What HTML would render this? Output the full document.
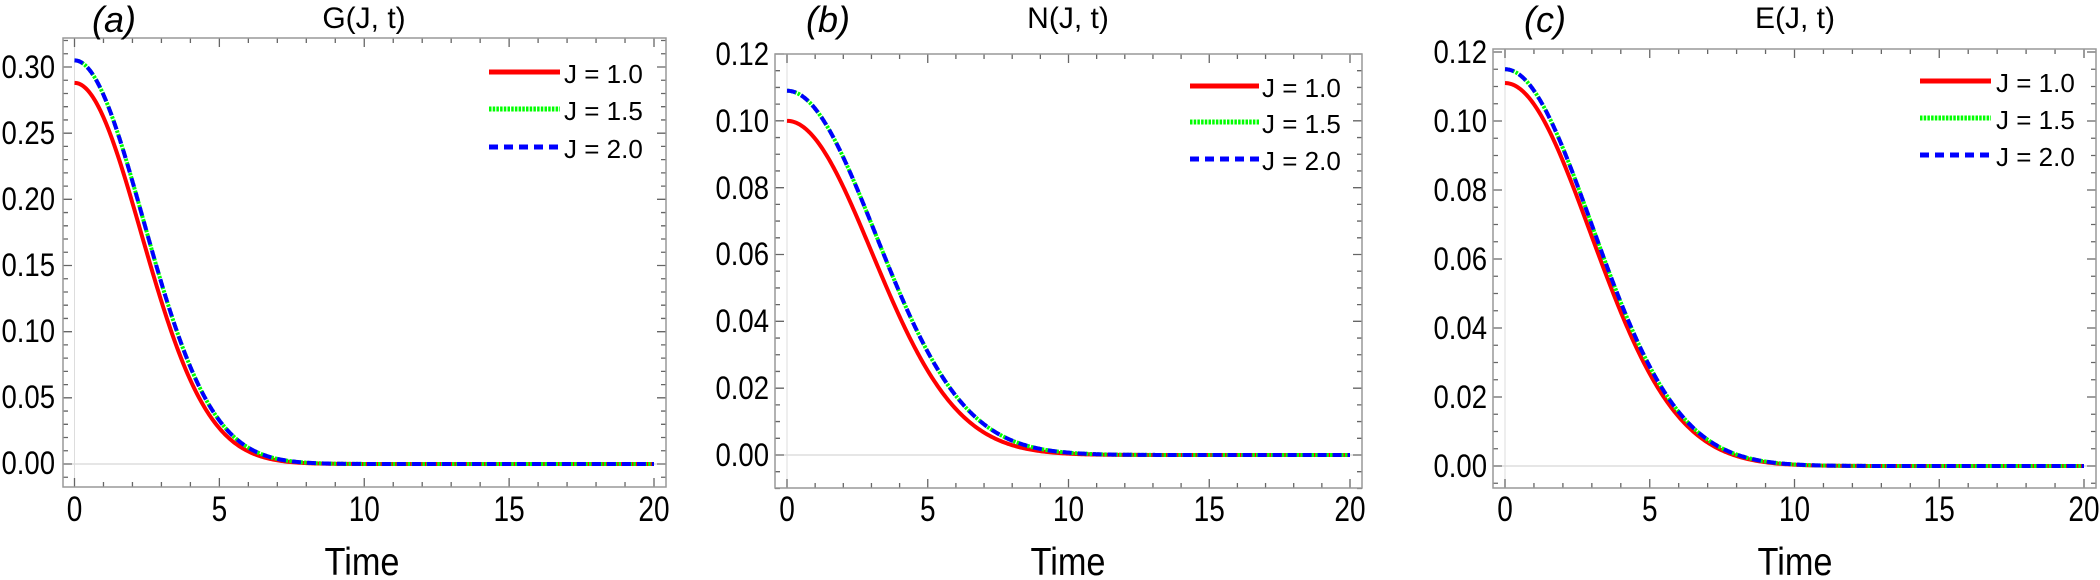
<!DOCTYPE html>
<html><head><meta charset="utf-8"><style>
html,body{margin:0;padding:0;background:#fff;width:2100px;height:580px;overflow:hidden}
svg text{font-family:"Liberation Sans",sans-serif;fill:#000}
</style></head><body>
<svg id="s" width="2100" height="580" xmlns="http://www.w3.org/2000/svg">
<g id="plots"></g>
<!-- panel a texts -->
<text x="114" y="32" font-family="Liberation Serif" font-style="italic" font-size="36" text-anchor="middle">(a)</text>
<text x="364" y="28" font-size="30" text-anchor="middle">G(J, t)</text>
<g font-size="32" text-anchor="end">
<text transform="translate(55,78) scale(0.86,1)">0.30</text>
<text transform="translate(55,144) scale(0.86,1)">0.25</text>
<text transform="translate(55,210) scale(0.86,1)">0.20</text>
<text transform="translate(55,276) scale(0.86,1)">0.15</text>
<text transform="translate(55,342) scale(0.86,1)">0.10</text>
<text transform="translate(55,408) scale(0.86,1)">0.05</text>
<text transform="translate(55,474) scale(0.86,1)">0.00</text>
</g>
<g font-size="35" text-anchor="middle">
<text transform="translate(74.5,521) scale(0.8,1)">0</text>
<text transform="translate(219.4,521) scale(0.8,1)">5</text>
<text transform="translate(364.3,521) scale(0.8,1)">10</text>
<text transform="translate(509.1,521) scale(0.8,1)">15</text>
<text transform="translate(654,521) scale(0.8,1)">20</text>
</g>
<text transform="translate(362,575) scale(0.88,1)" font-size="39" text-anchor="middle">Time</text>
<g font-size="26">
<text x="564" y="83">J = 1.0</text>
<text x="564" y="120">J = 1.5</text>
<text x="564" y="158">J = 2.0</text>
</g>
<!-- panel b texts -->
<text x="828" y="32" font-family="Liberation Serif" font-style="italic" font-size="36" text-anchor="middle">(b)</text>
<text x="1068" y="28" font-size="30" text-anchor="middle">N(J, t)</text>
<g font-size="32" text-anchor="end">
<text transform="translate(769,65) scale(0.86,1)">0.12</text>
<text transform="translate(769,132) scale(0.86,1)">0.10</text>
<text transform="translate(769,199) scale(0.86,1)">0.08</text>
<text transform="translate(769,265) scale(0.86,1)">0.06</text>
<text transform="translate(769,332) scale(0.86,1)">0.04</text>
<text transform="translate(769,399) scale(0.86,1)">0.02</text>
<text transform="translate(769,466) scale(0.86,1)">0.00</text>
</g>
<g font-size="35" text-anchor="middle">
<text transform="translate(787,521) scale(0.8,1)">0</text>
<text transform="translate(927.75,521) scale(0.8,1)">5</text>
<text transform="translate(1068.5,521) scale(0.8,1)">10</text>
<text transform="translate(1209.25,521) scale(0.8,1)">15</text>
<text transform="translate(1350,521) scale(0.8,1)">20</text>
</g>
<text transform="translate(1068,575) scale(0.88,1)" font-size="39" text-anchor="middle">Time</text>
<g font-size="26">
<text x="1262" y="97">J = 1.0</text>
<text x="1262" y="133">J = 1.5</text>
<text x="1262" y="170">J = 2.0</text>
</g>
<!-- panel c texts -->
<text x="1545" y="32" font-family="Liberation Serif" font-style="italic" font-size="36" text-anchor="middle">(c)</text>
<text x="1795" y="28" font-size="30" text-anchor="middle">E(J, t)</text>
<g font-size="32" text-anchor="end">
<text transform="translate(1487,63) scale(0.86,1)">0.12</text>
<text transform="translate(1487,132) scale(0.86,1)">0.10</text>
<text transform="translate(1487,201) scale(0.86,1)">0.08</text>
<text transform="translate(1487,270) scale(0.86,1)">0.06</text>
<text transform="translate(1487,339) scale(0.86,1)">0.04</text>
<text transform="translate(1487,408) scale(0.86,1)">0.02</text>
<text transform="translate(1487,477) scale(0.86,1)">0.00</text>
</g>
<g font-size="35" text-anchor="middle">
<text transform="translate(1505,521) scale(0.8,1)">0</text>
<text transform="translate(1649.75,521) scale(0.8,1)">5</text>
<text transform="translate(1794.5,521) scale(0.8,1)">10</text>
<text transform="translate(1939.25,521) scale(0.8,1)">15</text>
<text transform="translate(2084,521) scale(0.8,1)">20</text>
</g>
<text transform="translate(1795,575) scale(0.88,1)" font-size="39" text-anchor="middle">Time</text>
<g font-size="26">
<text x="1996" y="92">J = 1.0</text>
<text x="1996" y="129">J = 1.5</text>
<text x="1996" y="166">J = 2.0</text>
</g>
</svg>
<script>
var NS="http://www.w3.org/2000/svg",G=document.getElementById("plots");
function el(t,a){var e=document.createElementNS(NS,t);for(var k in a)e.setAttribute(k,a[k]);G.appendChild(e);return e;}
var P=[
 {L:63,R:666,T:38,B:487,x0:74.5,x20:654,yv:0.30,yp:67,y0p:464,maj:0.05,min:0.01,ymin:-0.017,ymax:0.322,
  c:[[0.288,3.25],[0.305,3.35],[0.305,3.35]],leg:[489,560,72,109,147]},
 {L:775,R:1362,T:54,B:488,x0:787,x20:1350,yv:0.12,yp:54,y0p:455,maj:0.02,min:0.005,ymin:-0.01,ymax:0.12,
  c:[[0.100,4.26],[0.109,4.45],[0.109,4.45]],leg:[1190,1259,86,122,159]},
 {L:1493,R:2096,T:49,B:488,x0:1505,x20:2084,yv:0.12,yp:52,y0p:466,maj:0.02,min:0.005,ymin:-0.006,ymax:0.123,
  c:[[0.111,4.19],[0.115,4.25],[0.115,4.25]],leg:[1920,1991,81,118,155]}
];
var sty=[{s:"#f00",d:""},{s:"#0f0",d:"2.5,1.2"},{s:"#00f",d:"9,6"}];
P.forEach(function(p){
 var sx=(p.x20-p.x0)/20, sy=(p.y0p-p.yp)/p.yv;
 function X(t){return p.x0+t*sx;} function Y(v){return p.y0p-v*sy;}
 el("line",{x1:p.L,x2:p.R,y1:p.y0p,y2:p.y0p,stroke:"#ccc","stroke-width":1});
 el("line",{x1:p.x0,x2:p.x0,y1:p.T,y2:p.B,stroke:"#ddd","stroke-width":1});
 var d="";
 for(var t=0;t<=20;t++){var x=X(t),big=t%5==0,l=big?9:5;
  d+="M"+x+","+p.B+"v-"+l+"M"+x+","+p.T+"v"+l;}
 var n=Math.round(p.maj/p.min);
 for(var k=Math.ceil(p.ymin/p.min);k*p.min<=p.ymax+1e-9;k++){var y=Y(k*p.min),big=(k%n==0),l=big?9:5;
  d+="M"+p.L+","+y+"h"+l+"M"+p.R+","+y+"h-"+l;}
 el("path",{d:d,stroke:"#666","stroke-width":1.3,fill:"none"});
 el("rect",{x:p.L,y:p.T,width:p.R-p.L,height:p.B-p.T,fill:"none",stroke:"#999","stroke-width":1.5});
 p.c.forEach(function(c,i){var pd="";
  for(var j=0;j<=400;j++){var t=j*0.05,v=c[0]*Math.exp(-(t/c[1])*(t/c[1]));pd+=(j?"L":"M")+X(t).toFixed(2)+","+Y(v).toFixed(2);}
  var a={d:pd,stroke:sty[i].s,"stroke-width":4,fill:"none"};if(sty[i].d)a["stroke-dasharray"]=sty[i].d;el("path",a);
  var b={x1:p.leg[0],x2:p.leg[1],y1:p.leg[2+i],y2:p.leg[2+i],stroke:sty[i].s,"stroke-width":5};if(sty[i].d)b["stroke-dasharray"]=sty[i].d;el("line",b);
 });
});
</script>
</body></html>
